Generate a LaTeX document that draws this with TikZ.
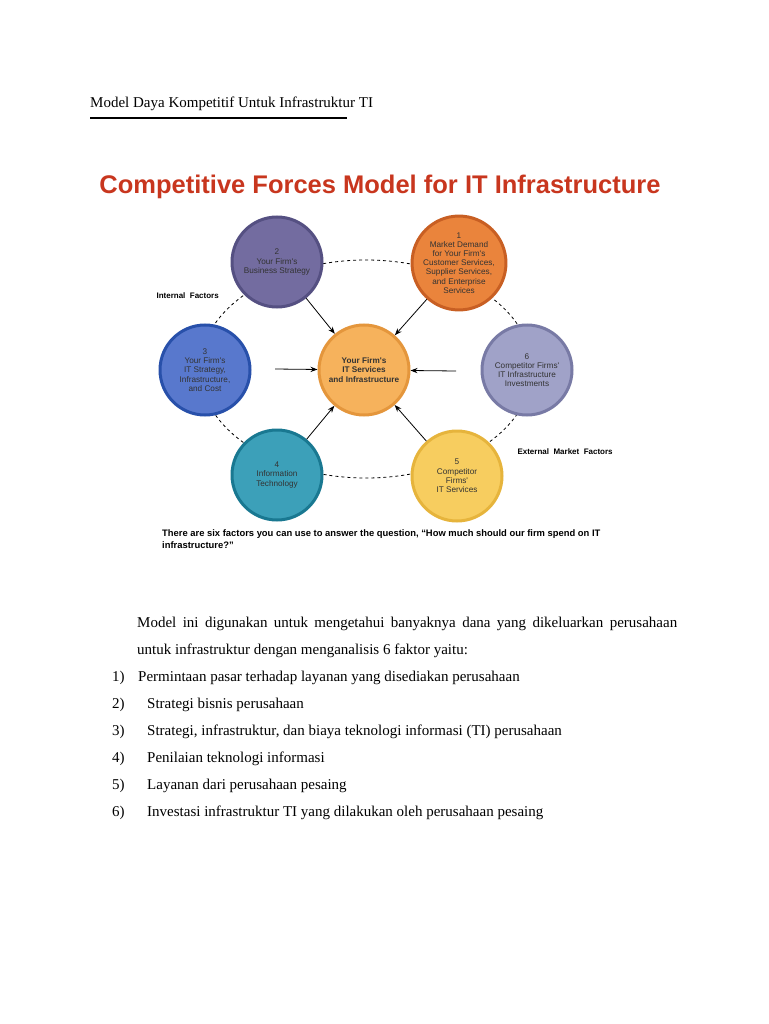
\documentclass[tikz,border=0pt]{standalone}
\usepackage{fontspec}
\setmainfont{Liberation Serif}
\newfontfamily\dsans{Liberation Sans}
\usetikzlibrary{arrows.meta}
\definecolor{ttl}{HTML}{C8361E}
\tikzset{
 fac/.style={circle,minimum size=90pt,inner sep=0pt,line width=3pt,align=center,font=\dsans\fontsize{8.2}{9.2}\selectfont,text=black!80},
 lbl/.style={font=\dsans\bfseries\fontsize{8}{9}\selectfont,anchor=west},
 body/.style={font=\fontsize{15}{18}\selectfont,anchor=base west,inner sep=0},
 arr/.style={-{Stealth[length=7pt]},thick},
}
\begin{document}
\begin{tikzpicture}[x=1pt,y=-1pt]
\useasboundingbox (0,0) rectangle (768,1024);
\node[body] (h) at (90,108) {Model Daya Kompetitif Untuk Infrastruktur TI};
\draw[line width=1.2pt] (90,118) coordinate (u1) -- (347,118) coordinate (u2);
\node[font=\dsans\bfseries\fontsize{25.5}{28}\selectfont,text=ttl] (t) at (380,187) {Competitive Forces Model for IT Infrastructure};
\draw[dashed,thick] (366,369) ellipse (166 and 109);
\node[fac,fill={rgb,255:red,246;green,178;blue,92},draw={rgb,255:red,228;green,150;blue,60}] (c) at (364,370) {\bfseries Your Firm's\\\bfseries IT Services\\\bfseries and Infrastructure};
\node[fac,fill={rgb,255:red,234;green,132;blue,60},draw={rgb,255:red,200;green,95;blue,35}] (f1) at (459,263) {1\\Market Demand\\for Your Firm's\\Customer Services,\\Supplier Services,\\and Enterprise\\Services};
\node[fac,fill={rgb,255:red,115;green,108;blue,160},draw={rgb,255:red,85;green,80;blue,130}] (f2) at (277,262) {2\\Your Firm's\\Business Strategy};
\node[fac,fill={rgb,255:red,88;green,120;blue,205},draw={rgb,255:red,40;green,80;blue,170}] (f3) at (205,370) {3\\Your Firm's\\IT Strategy,\\Infrastructure,\\and Cost};
\node[fac,fill={rgb,255:red,60;green,160;blue,185},draw={rgb,255:red,25;green,120;blue,145}] (f4) at (277,475) {4\\Information\\Technology};
\node[fac,fill={rgb,255:red,247;green,205;blue,95},draw={rgb,255:red,230;green,180;blue,60}] (f5) at (457,476) {5\\Competitor\\Firms'\\IT Services};
\node[fac,fill={rgb,255:red,160;green,162;blue,200},draw={rgb,255:red,120;green,122;blue,165}] (f6) at (527,370) {6\\Competitor Firms'\\IT Infrastructure\\Investments};
\draw[arr] (f2) -- (c);
\draw[arr] (f1) -- (c);
\draw[arr] (f4) -- (c);
\draw[arr] (f5) -- (c);
\coordinate (a3) at (275,369); \coordinate (a6) at (456,371);
\draw[arr] (a3) -- (c);
\draw[arr] (a6) -- (c);
\node[lbl] (ifac) at (153,296) {Internal\ \ Factors};
\node[lbl] (efac) at (514,452) {External\ \ Market\ \ Factors};
\node[font=\dsans\bfseries\fontsize{9.4}{12}\selectfont,anchor=north west,align=left,inner sep=0] (cap) at (162,529) {There are six factors you can use to answer the question, “How much should our firm spend on IT\\infrastructure?”};
\node[body,text width=540pt,align=justify] (p1) at (137,627) {Model ini digunakan untuk mengetahui banyaknya dana yang dikeluarkan perusahaan\parfillskip=0pt\par};
\node[body] (p2) at (137,654) {untuk infrastruktur dengan menganalisis 6 faktor yaitu:};
\foreach \n/\y/\x/\t in {1/681/138/Permintaan pasar terhadap layanan yang disediakan perusahaan,2/708/147/Strategi bisnis perusahaan,3/735/147/{Strategi, infrastruktur, dan biaya teknologi informasi (TI) perusahaan},4/762/147/Penilaian teknologi informasi,5/789/147/Layanan dari perusahaan pesaing,6/816/147/Investasi infrastruktur TI yang dilakukan oleh perusahaan pesaing}{
 \node[body] (n\n) at (112,\y) {\n)};
 \node[body] (l\n) at (\x,\y) {\t};
}
\end{tikzpicture}
\end{document}
